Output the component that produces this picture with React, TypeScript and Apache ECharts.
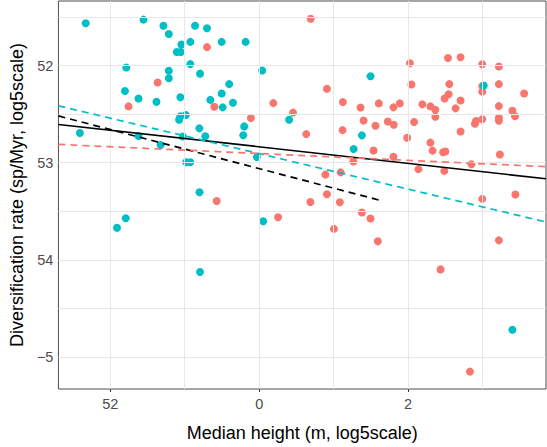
import { useEffect, useRef } from 'react'
import * as echarts from 'echarts'

// log5 scale values
const xTicks = [-2, 0, 2]
const xTickLabels = ['52', '0', '2']
const yTicks = [-2, -3, -4, -5]
const yTickLabels = ['52', '53', '54', '−5']
const xMajorGrid = [-2, -1, 0, 1, 2, 3]
const yMajorGrid = [-1.5, -2, -2.5, -3, -3.5, -4, -4.5, -5]

const tealPoints = [
  [-2.329, -1.565], [-1.553, -1.528], [-1.285, -1.591], [-1.213, -1.676], [-0.861, -1.591],
  [-0.7, -1.616], [-1.044, -1.784], [-0.924, -1.757], [-0.503, -1.757], [-0.182, -1.757],
  [-1.106, -1.861], [-1.052, -1.861], [-0.924, -1.986], [-1.784, -2.02], [-1.213, -2.054],
  [-0.794, -2.084], [-1.213, -2.131], [0.04, -2.051], [-0.402, -2.192], [-1.802, -2.263],
  [-0.503, -2.289], [-1.62, -2.34], [-1.058, -2.327], [-1.379, -2.374], [-0.656, -2.354],
  [-0.352, -2.384], [-0.49, -2.431], [-0.985, -2.509], [-1.058, -2.522], [-1.075, -2.559],
  [0.402, -2.559], [-0.201, -2.627], [-0.803, -2.647], [-2.407, -2.694], [-1.62, -2.726],
  [-1.323, -2.819], [-1.025, -2.731], [-0.723, -2.728], [-0.214, -2.718], [-0.981, -2.996],
  [-0.924, -2.996], [-0.031, -2.943], [-0.801, -3.304], [-1.791, -3.573], [-1.909, -3.671],
  [0.054, -3.603], [-0.794, -4.126], [1.495, -2.111], [3.015, -2.205], [1.379, -2.719],
  [1.268, -2.859], [3.4, -4.72],
]

const salmonPoints = [
  [-0.7, -1.811], [-1.363, -2.175], [-1.754, -2.421], [-0.602, -2.425], [0.19, -2.387],
  [-0.111, -2.541], [0.455, -2.485], [0.632, -2.706], [-0.57, -3.395], [0.254, -3.562],
  [0.692, -1.518], [2.024, -1.976], [2.535, -1.922], [2.704, -1.915], [2.995, -1.988],
  [3.218, -2.01], [0.91, -2.239], [2.044, -2.195], [2.553, -2.192], [2.995, -2.212],
  [2.995, -2.269], [3.218, -2.192], [3.557, -2.289], [2.544, -2.296], [2.49, -2.34],
  [2.704, -2.36], [1.124, -2.377], [1.361, -2.433], [1.606, -2.39], [1.803, -2.431],
  [1.888, -2.39], [2.191, -2.4], [2.299, -2.421], [2.365, -2.455], [2.637, -2.441],
  [3.218, -2.418], [3.4, -2.465], [3.436, -2.522], [2.365, -2.527], [1.402, -2.567],
  [1.562, -2.62], [1.727, -2.576], [1.807, -2.61], [2.08, -2.582], [2.91, -2.572],
  [2.897, -2.6], [2.995, -2.554], [3.218, -2.537], [3.218, -2.569], [1.12, -2.665],
  [1.987, -2.744], [2.704, -2.68], [2.299, -2.794], [1.535, -2.875], [2.328, -2.876],
  [2.469, -2.893], [2.499, -2.886], [3.232, -2.916], [1.803, -2.94], [1.264, -2.989],
  [2.138, -3.067], [2.486, -3.085], [2.851, -3.017], [0.889, -3.123], [1.094, -3.1],
  [0.688, -3.405], [0.91, -3.325], [1.083, -3.408], [1.379, -3.513], [1.495, -3.575],
  [1.004, -3.682], [1.593, -3.81], [2.995, -3.373], [3.44, -3.328], [3.218, -3.8],
  [2.436, -4.099], [2.83, -5.151],
]

// fitted lines (end points)
const fitAll = [[-2.695, -2.607], [3.851, -3.166]]
const fitOther = [[-2.695, -2.519], [1.608, -3.385]]
const fitTeal = [[-2.695, -2.415], [3.851, -3.611]]
const fitSalmon = [[-2.695, -2.812], [3.851, -3.041]]

const X_MIN = -2.695
const X_MAX = 3.851
const Y_MIN = -5.33
const Y_MAX = -1.336

const FONT = "'Liberation Sans', Arial, sans-serif"

function dashed(name: string, data: number[][], color: string) {
  return {
    name,
    type: 'line',
    data,
    symbol: 'none',
    silent: true,
    z: 5,
    lineStyle: { color, width: 1.7, type: [7, 5] },
  }
}

export default function App() {
  const ref = useRef<HTMLDivElement | null>(null)

  useEffect(() => {
    if (!ref.current) return
    const chart = echarts.init(ref.current, undefined, { renderer: 'svg' })
    chart.setOption({
      animation: false,
      backgroundColor: '#fff',
      grid: {
        left: 57,
        right: 1,
        top: 1,
        bottom: 52,
        show: true,
        borderColor: '#4d4d4d',
        borderWidth: 1,
        backgroundColor: 'transparent',
      },
      xAxis: {
        type: 'value',
        min: X_MIN,
        max: X_MAX,
        name: 'Median height (m, log5scale)',
        nameLocation: 'middle',
        nameGap: 35,
        nameTextStyle: { fontFamily: FONT, fontSize: 18, color: '#000' },
        axisLine: { show: false },
        axisTick: { show: true, customValues: xTicks, length: 3, lineStyle: { color: '#333' } },
        axisLabel: {
          customValues: xTicks,
          formatter: (v: number) => xTickLabels[xTicks.indexOf(Math.round(v))] ?? '',
          fontFamily: FONT,
          fontSize: 14.5,
          color: '#4d4d4d',
          margin: 7,
        },
        splitLine: { show: false },
      },
      yAxis: {
        type: 'value',
        min: Y_MIN,
        max: Y_MAX,
        name: 'Diversification rate (sp/Myr, log5scale)',
        nameLocation: 'middle',
        nameGap: 30,
        nameTextStyle: { fontFamily: FONT, fontSize: 18, color: '#000' },
        axisLine: { show: false },
        axisTick: { show: true, customValues: yTicks, length: 3, lineStyle: { color: '#333' } },
        axisLabel: {
          customValues: yTicks,
          formatter: (v: number) => yTickLabels[yTicks.indexOf(Math.round(v))] ?? '',
          fontFamily: FONT,
          fontSize: 14.5,
          color: '#4d4d4d',
          margin: 5,
        },
        splitLine: { show: false },
      },
      series: [
        {
          name: 'grid',
          type: 'line',
          data: [],
          silent: true,
          z: 0,
          markLine: {
            silent: true,
            symbol: ['none', 'none'],
            label: { show: false },
            lineStyle: { color: '#e8e8e8', width: 1, type: 'solid' },
            data: [
              ...xMajorGrid.map((v) => ({ xAxis: v })),
              ...yMajorGrid.map((v) => ({ yAxis: v })),
            ],
          },
        },
        {
          name: 'salmon',
          type: 'scatter',
          data: salmonPoints,
          symbolSize: 8,
          z: 2,
          itemStyle: { color: '#F8766D', opacity: 1 },
        },
        {
          name: 'teal',
          type: 'scatter',
          data: tealPoints,
          symbolSize: 8,
          z: 3,
          itemStyle: { color: '#00BFC4', opacity: 1 },
        },
        {
          name: 'all',
          type: 'line',
          data: fitAll,
          symbol: 'none',
          silent: true,
          z: 5,
          lineStyle: { color: '#000', width: 1.7 },
        },
        dashed('other', fitOther, '#000'),
        dashed('tealFit', fitTeal, '#00BFC4'),
        dashed('salmonFit', fitSalmon, '#F8766D'),
      ],
    })
    return () => chart.dispose()
  }, [])

  return (
    <div
      ref={ref}
      style={{ position: 'fixed', left: 0, top: 0, width: 547, height: 447 }}
    />
  )
}
